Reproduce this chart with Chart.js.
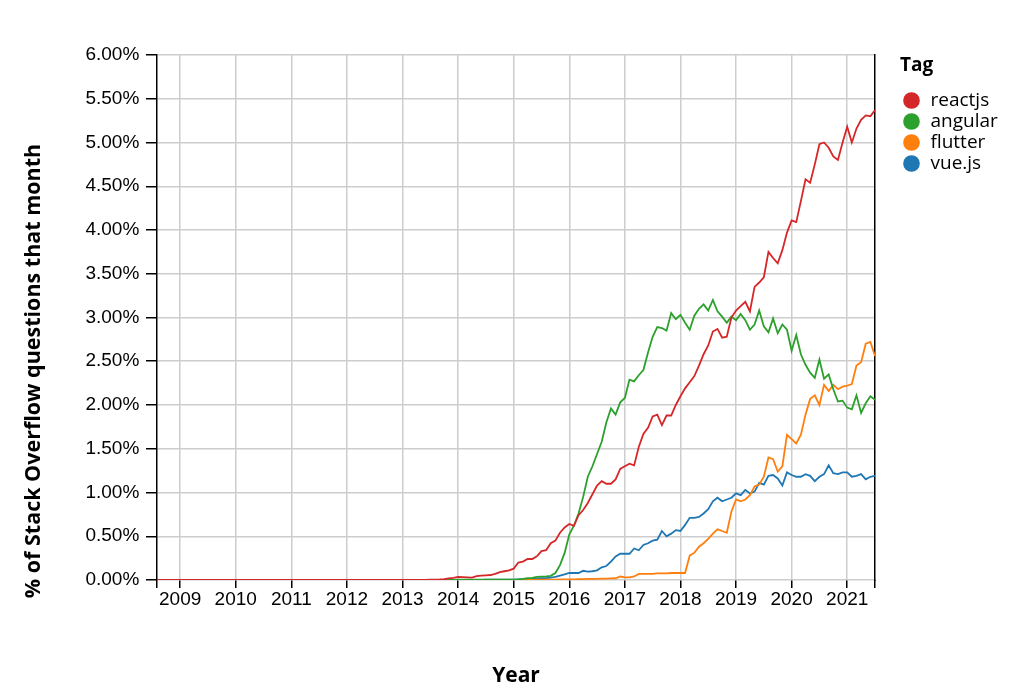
<!DOCTYPE html>
<html>
<head>
<meta charset="utf-8">
<script src="https://cdn.jsdelivr.net/npm/chart.js@4/dist/chart.umd.min.js"></script>
<style>
  html, body { margin: 0; padding: 0; background: #fff; }
  #wrap { position: relative; width: 1024px; height: 700px; }
</style>
</head>
<body>
<div id="wrap"><canvas id="c"></canvas></div>
<script>
// ---- categories: one entry per month, Aug 2008 .. Jul 2021 ----
const firstYear = 2008, firstMonth = 8, lastYear = 2021, lastMonth = 7;
const months = [];
for (let y = firstYear, m = firstMonth; y < lastYear || (y === lastYear && m <= lastMonth); ) {
  months.push(y + '-' + String(m).padStart(2, '0'));
  m++; if (m > 12) { m = 1; y++; }
}

// ---- series values (% of Stack Overflow questions that month) ----
const reactjs = [
  0, 0, 0, 0, 0,                                                        // 2008 Aug-Dec
  0, 0, 0, 0, 0, 0, 0, 0, 0, 0, 0, 0,                                   // 2009
  0, 0, 0, 0, 0, 0, 0, 0, 0, 0, 0, 0,                                   // 2010
  0, 0, 0, 0, 0, 0, 0, 0, 0, 0, 0, 0,                                   // 2011
  0, 0, 0, 0, 0, 0, 0, 0, 0, 0, 0, 0,                                   // 2012
  0, 0, 0, 0, 0, 0.002, 0.003, 0.004, 0.006, 0.01, 0.018, 0.025,        // 2013
  0.035, 0.032, 0.03, 0.028, 0.045, 0.05, 0.053, 0.057, 0.07, 0.09, 0.10, 0.11, // 2014
  0.13, 0.20, 0.21, 0.24, 0.24, 0.27, 0.33, 0.34, 0.42, 0.45, 0.54, 0.60,       // 2015
  0.64, 0.62, 0.74, 0.80, 0.88, 0.98, 1.08, 1.13, 1.10, 1.10, 1.15, 1.27,       // 2016
  1.30, 1.33, 1.31, 1.52, 1.67, 1.74, 1.87, 1.89, 1.77, 1.88, 1.88, 2.00,       // 2017
  2.10, 2.19, 2.26, 2.33, 2.45, 2.58, 2.68, 2.84, 2.87, 2.77, 2.78, 3.00,       // 2018
  3.08, 3.13, 3.18, 3.07, 3.35, 3.40, 3.46, 3.75, 3.68, 3.62, 3.77, 3.97,       // 2019
  4.11, 4.09, 4.33, 4.58, 4.54, 4.75, 4.98, 5.00, 4.94, 4.84, 4.80, 5.00,       // 2020
  5.18, 5.00, 5.16, 5.26, 5.31, 5.30, 5.37                                       // 2021 Jan-Jul
];
const angular = [
  0, 0, 0, 0, 0,
  0, 0, 0, 0, 0, 0, 0, 0, 0, 0, 0, 0,
  0, 0, 0, 0, 0, 0, 0, 0, 0, 0, 0, 0,
  0, 0, 0, 0, 0, 0, 0, 0, 0, 0, 0, 0,
  0, 0, 0, 0, 0, 0, 0, 0, 0, 0, 0, 0,
  0.002, 0.002, 0.002, 0.002, 0.002, 0.002, 0.002, 0.002, 0.002, 0.002, 0.002, 0.002,
  0.004, 0.004, 0.004, 0.004, 0.004, 0.004, 0.004, 0.004, 0.004, 0.004, 0.004, 0.004,
  0.005, 0.006, 0.012, 0.02, 0.025, 0.035, 0.038, 0.042, 0.048, 0.08, 0.17, 0.31,
  0.52, 0.62, 0.76, 0.95, 1.18, 1.30, 1.44, 1.58, 1.80, 1.96, 1.89, 2.03,
  2.08, 2.29, 2.27, 2.34, 2.40, 2.60, 2.78, 2.89, 2.88, 2.85, 3.05, 2.98,
  3.03, 2.94, 2.86, 3.02, 3.10, 3.15, 3.08, 3.20, 3.07, 3.01, 2.94, 3.01,
  2.97, 3.04, 2.97, 2.86, 2.92, 3.08, 2.90, 2.83, 2.99, 2.82, 2.92, 2.86,
  2.62, 2.80, 2.58, 2.46, 2.37, 2.31, 2.52, 2.30, 2.35, 2.18, 2.04, 2.05,
  1.97, 1.95, 2.11, 1.91, 2.02, 2.10, 2.06
];
const flutter = [
  0, 0, 0, 0, 0,
  0, 0, 0, 0, 0, 0, 0, 0, 0, 0, 0, 0,
  0, 0, 0, 0, 0, 0, 0, 0, 0, 0, 0, 0,
  0, 0, 0, 0, 0, 0, 0, 0, 0, 0, 0, 0,
  0, 0, 0, 0, 0, 0, 0, 0, 0, 0, 0, 0,
  0, 0, 0, 0, 0, 0, 0, 0, 0, 0, 0, 0,
  0, 0, 0, 0, 0, 0, 0, 0, 0, 0, 0, 0,
  0, 0, 0, 0, 0.002, 0.003, 0.004, 0.004, 0.005, 0.005, 0.006, 0.006,
  0.008, 0.008, 0.01, 0.01, 0.012, 0.012, 0.014, 0.015, 0.016, 0.018, 0.02, 0.04,
  0.03, 0.03, 0.04, 0.07, 0.07, 0.07, 0.07, 0.075, 0.075, 0.075, 0.08, 0.08,
  0.08, 0.08, 0.28, 0.31, 0.38, 0.42, 0.47, 0.53, 0.58, 0.56, 0.54, 0.78,
  0.92, 0.90, 0.92, 0.97, 1.07, 1.09, 1.18, 1.40, 1.38, 1.24, 1.30, 1.66,
  1.61, 1.56, 1.66, 1.89, 2.07, 2.11, 2.00, 2.23, 2.16, 2.23, 2.18, 2.21,
  2.22, 2.24, 2.45, 2.49, 2.70, 2.72, 2.56
];
const vuejs = [
  0, 0, 0, 0, 0,
  0, 0, 0, 0, 0, 0, 0, 0, 0, 0, 0, 0,
  0, 0, 0, 0, 0, 0, 0, 0, 0, 0, 0, 0,
  0, 0, 0, 0, 0, 0, 0, 0, 0, 0, 0, 0,
  0, 0, 0, 0, 0, 0, 0, 0, 0, 0, 0, 0,
  0, 0, 0, 0, 0, 0, 0, 0, 0, 0, 0, 0,
  0.001, 0.001, 0.001, 0.002, 0.002, 0.002, 0.003, 0.003, 0.003, 0.004, 0.004, 0.004,
  0.005, 0.006, 0.008, 0.01, 0.012, 0.015, 0.02, 0.022, 0.027, 0.035, 0.05, 0.065,
  0.08, 0.08, 0.08, 0.105, 0.095, 0.10, 0.11, 0.145, 0.16, 0.21, 0.27, 0.30,
  0.30, 0.30, 0.36, 0.34, 0.40, 0.42, 0.45, 0.46, 0.56, 0.50, 0.53, 0.57,
  0.56, 0.63, 0.71, 0.71, 0.72, 0.76, 0.81, 0.90, 0.94, 0.90, 0.92, 0.94,
  0.99, 0.97, 1.03, 0.99, 1.01, 1.11, 1.09, 1.19, 1.20, 1.16, 1.08, 1.23,
  1.20, 1.18, 1.18, 1.21, 1.19, 1.13, 1.18, 1.21, 1.31, 1.22, 1.21, 1.23,
  1.23, 1.18, 1.19, 1.21, 1.15, 1.18, 1.19
];

const tagNames = ['reactjs', 'angular', 'flutter', 'vue.js'];
const tagValues = [reactjs, angular, flutter, vuejs];
const yTickMin = 0, yTickMax = 6, yTickStep = 0.5;

// ---- styles ----
const tagColors = ['#d62728', '#2ca02c', '#ff7f0e', '#1f77b4'];
const GRID = '#cdcdcd';
const TITLE_FONT = 'Open Sans';

Chart.defaults.font.family = "'Liberation Sans', Arial, sans-serif";
Chart.defaults.color = '#000';

const isJan = i => months[i].endsWith('-01');
const isEnd = i => i === 0 || i === months.length - 1;

new Chart(document.getElementById('c'), {
  type: 'line',
  data: {
    labels: months,
    datasets: tagNames.map((name, k) => ({
      label: name,
      data: tagValues[k],
      borderColor: tagColors[k],
      backgroundColor: tagColors[k],
      borderWidth: 1.8,
      pointRadius: 0,
      pointHoverRadius: 0,
      pointStyle: 'circle',
      tension: 0,
      fill: false
    }))
  },
  options: {
    responsive: true,
    maintainAspectRatio: false,
    animation: false,
    events: [],
    layout: { padding: { top: 55, bottom: 13, left: 0, right: 20 } },
    plugins: {
      tooltip: { enabled: false },
      legend: {
        position: 'right',
        align: 'start',
        maxWidth: 104,
        title: {
          display: true,
          text: 'Tag',
          position: 'start',
          color: '#000',
          font: { family: TITLE_FONT, size: 19, weight: 'bold' },
          padding: { top: 1.5, bottom: 9.7 }
        },
        labels: {
          usePointStyle: true,
          pointStyle: 'circle',
          boxHeight: 10.5,
          padding: 2,
          color: '#000',
          font: { family: TITLE_FONT, size: 19 }
        }
      }
    },
    scales: {
      x: {
        type: 'category',
        offset: false,
        afterFit: s => { s.height = 107; },
        border: { display: false },
        grid: {
          color: c => (!isEnd(c.index) && isJan(c.index)) ? GRID : 'rgba(0,0,0,0)',
          tickColor: c => (isJan(c.index) || isEnd(c.index)) ? '#000' : 'rgba(0,0,0,0)',
          lineWidth: 1.5,
          tickWidth: 1.5,
          tickLength: 8
        },
        ticks: {
          autoSkip: false,
          maxRotation: 0,
          minRotation: 0,
          padding: 0,
          color: '#000',
          font: { size: 19 },
          callback: (v, i) => isJan(i) ? months[i].slice(0, 4) : ''
        },
        title: {
          display: true,
          text: 'Year',
          color: '#000',
          font: { family: TITLE_FONT, size: 21, weight: 'bold', lineHeight: 1 },
          padding: { top: 0, bottom: 0 }
        }
      },
      y: {
        type: 'linear',
        position: 'left',
        min: yTickMin,
        max: yTickMax,
        afterFit: s => { s.width = 111; },
        border: { display: true, color: '#000', width: 1.5 },
        grid: { color: GRID, lineWidth: 1.5, tickColor: '#000', tickWidth: 1.5, tickLength: 11 },
        ticks: {
          stepSize: yTickStep,
          padding: 6.7,
          color: '#000',
          font: { size: 19 },
          callback: v => v.toFixed(2) + '%'
        }
      },
      yTitle: {
        type: 'linear',
        position: 'left',
        fullSize: true,
        weight: 10,
        afterFit: s => { s.width = 46; },
        border: { display: false },
        grid: { display: false, drawTicks: false },
        ticks: { display: false },
        title: {
          display: true,
          text: '% of Stack Overflow questions that month',
          color: '#000',
          font: { family: TITLE_FONT, size: 21.5, weight: 'bold', lineHeight: 1 },
          padding: { top: 23.2, bottom: 0 }
        }
      },
      yRight: {
        type: 'linear',
        position: 'right',
        afterFit: s => { s.width = 25; },
        border: { display: true, color: '#000', width: 1.5 },
        grid: { display: true, drawOnChartArea: false, drawTicks: false },
        ticks: { display: false }
      }
    }
  }
});
</script>
</body>
</html>
